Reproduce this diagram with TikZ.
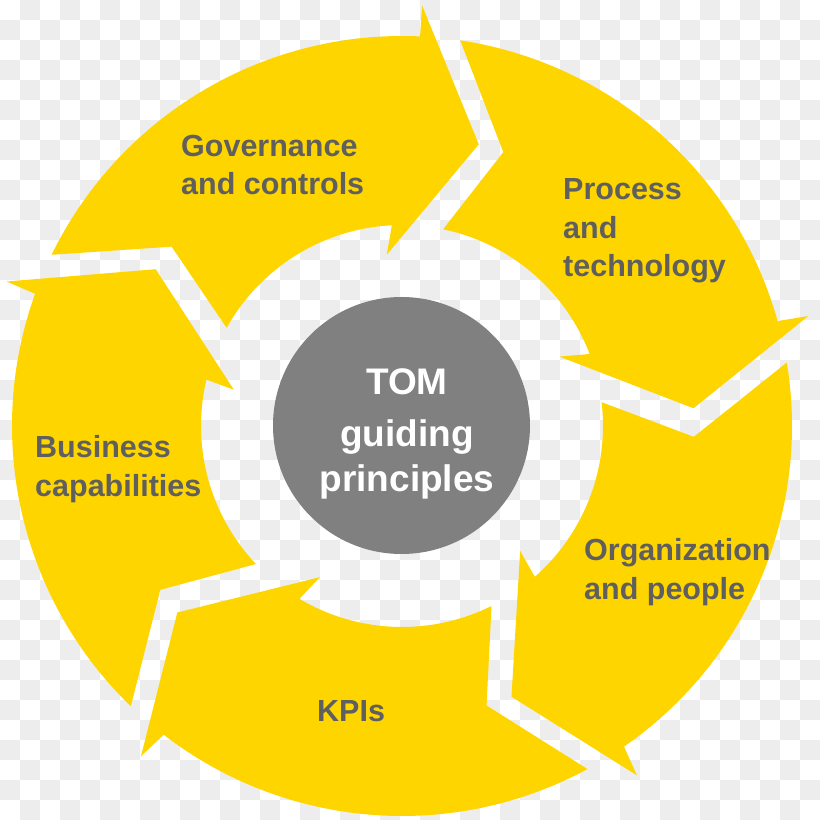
\documentclass[tikz,border=0pt]{standalone}
\usepackage{fontspec}
\setmainfont{Liberation Sans}
\definecolor{yel}{HTML}{FFD500}
\definecolor{labgrey}{HTML}{5F5F5F}
\definecolor{circgrey}{HTML}{808080}
\definecolor{checker}{HTML}{EDEDED}
% math angles: tail outer, tail inner, notch, head outer base, outer barb, tip, inner barb, inner base
\newcommand\ringarrow[8]{%
  \fill[seg] (#1:390pt) arc[start angle=#1, end angle=#4, radius=390pt]
    -- (#5:421pt) -- (#6:292pt) -- (#7:172pt) -- (#8:201pt)
    arc[start angle=#8, end angle=#2, radius=201pt] -- (#3:292pt) -- cycle;}
\begin{document}
\begin{tikzpicture}[x=1pt,y=1pt,
  lab/.style={font=\fontsize{30.5}{36}\selectfont\bfseries, text=labgrey, inner sep=0pt, anchor=base west},
  ctr/.style={font=\fontsize{37}{44}\selectfont\bfseries, text=white, inner sep=0pt, anchor=base},
  seg/.style={fill=yel}]
\useasboundingbox (0,0) rectangle (820,820);
\fill[white] (0,0) rectangle (820,820);
\foreach \i in {0,...,40}{\foreach \j in {0,...,40}{%
  \pgfmathtruncatemacro\k{mod(\i+\j,2)}%
  \ifnum\k=1 \fill[checker] (20*\i,820-20*\j) rectangle ++(20,-20);\fi}}
\begin{scope}[shift={(402,394)}]
  % Governance and controls
  \ringarrow{153.96}{150.75}{142.1}{87.35}{87.26}{74.76}{95.07}{92.9}
  % Process and technology
  \ringarrow{81.41}{78.19}{69.7}{15.6}{15.15}{3.48}{23.8}{21.0}
  % Organization and people
  \ringarrow{9.37}{6.81}{-2.13}{-55.3}{-56.08}{-67.98}{-46.6}{-48.63}
  % KPIs
  \ringarrow{-61.6}{-63.56}{-73.17}{-127.67}{-128.32}{-140.3}{-118.5}{-120.67}
  % Business capabilities
  \ringarrow{-134.06}{-136.63}{-145.87}{-199.82}{-200.07}{-212.48}{-192.17}{-193.34}
\end{scope}
\node[circle, fill=circgrey, minimum size=257pt, inner sep=0pt] (hub) at (401.5,394.5) {};
\node[ctr] (c1) at (407,425) {TOM};
\node[ctr] (c2) at (407,373) {guiding};
\node[ctr] (c3) at (407,328) {principles};
\node[lab] (gov1) at (181,663) {Governance};
\node[lab] (gov2) at (181,625.5) {and controls};
\node[lab] (proc1) at (563,620) {Process};
\node[lab] (proc2) at (563,581) {and};
\node[lab] (proc3) at (563,543) {technology};
\node[lab] (org1) at (584,259) {Organization};
\node[lab] (org2) at (584,220) {and people};
\node[lab] (bus1) at (35,362) {Business};
\node[lab] (bus2) at (35,323) {capabilities};
\node[lab] (kpi) at (317,98) {KPIs};
\end{tikzpicture}
\end{document}
